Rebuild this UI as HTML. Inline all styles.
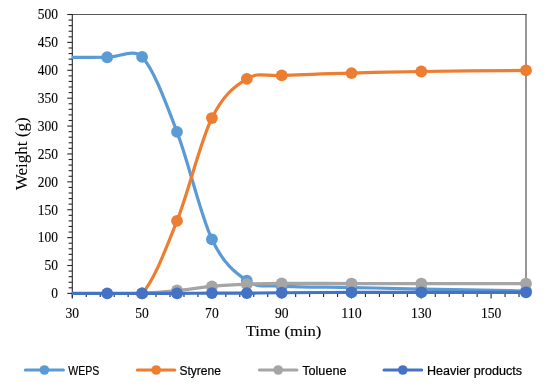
<!DOCTYPE html>
<html><head><meta charset="utf-8"><style>
html,body{margin:0;padding:0;background:#fff;width:550px;height:390px;overflow:hidden}
svg{display:block}
</style></head><body>
<svg width="550" height="390" viewBox="0 0 550 390">
<rect x="0" y="0" width="550" height="390" fill="#fff"/>
<line x1="72.3" y1="14.5" x2="526.5" y2="14.5" stroke="#595959" stroke-width="1.1"/>
<line x1="526" y1="14" x2="526" y2="293.4" stroke="#404040" stroke-width="1.1"/>
<path d="M72.3 14 V297.5" fill="none" stroke="#262626" stroke-width="1.1"/>
<line x1="67.3" y1="293.40" x2="72.3" y2="293.40" stroke="#262626" stroke-width="1.1"/>
<line x1="68.6" y1="287.82" x2="72.3" y2="287.82" stroke="#262626" stroke-width="1.1"/>
<line x1="68.6" y1="282.24" x2="72.3" y2="282.24" stroke="#262626" stroke-width="1.1"/>
<line x1="68.6" y1="276.67" x2="72.3" y2="276.67" stroke="#262626" stroke-width="1.1"/>
<line x1="68.6" y1="271.09" x2="72.3" y2="271.09" stroke="#262626" stroke-width="1.1"/>
<line x1="67.3" y1="265.51" x2="72.3" y2="265.51" stroke="#262626" stroke-width="1.1"/>
<line x1="68.6" y1="259.93" x2="72.3" y2="259.93" stroke="#262626" stroke-width="1.1"/>
<line x1="68.6" y1="254.35" x2="72.3" y2="254.35" stroke="#262626" stroke-width="1.1"/>
<line x1="68.6" y1="248.78" x2="72.3" y2="248.78" stroke="#262626" stroke-width="1.1"/>
<line x1="68.6" y1="243.20" x2="72.3" y2="243.20" stroke="#262626" stroke-width="1.1"/>
<line x1="67.3" y1="237.62" x2="72.3" y2="237.62" stroke="#262626" stroke-width="1.1"/>
<line x1="68.6" y1="232.04" x2="72.3" y2="232.04" stroke="#262626" stroke-width="1.1"/>
<line x1="68.6" y1="226.46" x2="72.3" y2="226.46" stroke="#262626" stroke-width="1.1"/>
<line x1="68.6" y1="220.89" x2="72.3" y2="220.89" stroke="#262626" stroke-width="1.1"/>
<line x1="68.6" y1="215.31" x2="72.3" y2="215.31" stroke="#262626" stroke-width="1.1"/>
<line x1="67.3" y1="209.73" x2="72.3" y2="209.73" stroke="#262626" stroke-width="1.1"/>
<line x1="68.6" y1="204.15" x2="72.3" y2="204.15" stroke="#262626" stroke-width="1.1"/>
<line x1="68.6" y1="198.57" x2="72.3" y2="198.57" stroke="#262626" stroke-width="1.1"/>
<line x1="68.6" y1="193.00" x2="72.3" y2="193.00" stroke="#262626" stroke-width="1.1"/>
<line x1="68.6" y1="187.42" x2="72.3" y2="187.42" stroke="#262626" stroke-width="1.1"/>
<line x1="67.3" y1="181.84" x2="72.3" y2="181.84" stroke="#262626" stroke-width="1.1"/>
<line x1="68.6" y1="176.26" x2="72.3" y2="176.26" stroke="#262626" stroke-width="1.1"/>
<line x1="68.6" y1="170.68" x2="72.3" y2="170.68" stroke="#262626" stroke-width="1.1"/>
<line x1="68.6" y1="165.11" x2="72.3" y2="165.11" stroke="#262626" stroke-width="1.1"/>
<line x1="68.6" y1="159.53" x2="72.3" y2="159.53" stroke="#262626" stroke-width="1.1"/>
<line x1="67.3" y1="153.95" x2="72.3" y2="153.95" stroke="#262626" stroke-width="1.1"/>
<line x1="68.6" y1="148.37" x2="72.3" y2="148.37" stroke="#262626" stroke-width="1.1"/>
<line x1="68.6" y1="142.79" x2="72.3" y2="142.79" stroke="#262626" stroke-width="1.1"/>
<line x1="68.6" y1="137.22" x2="72.3" y2="137.22" stroke="#262626" stroke-width="1.1"/>
<line x1="68.6" y1="131.64" x2="72.3" y2="131.64" stroke="#262626" stroke-width="1.1"/>
<line x1="67.3" y1="126.06" x2="72.3" y2="126.06" stroke="#262626" stroke-width="1.1"/>
<line x1="68.6" y1="120.48" x2="72.3" y2="120.48" stroke="#262626" stroke-width="1.1"/>
<line x1="68.6" y1="114.90" x2="72.3" y2="114.90" stroke="#262626" stroke-width="1.1"/>
<line x1="68.6" y1="109.33" x2="72.3" y2="109.33" stroke="#262626" stroke-width="1.1"/>
<line x1="68.6" y1="103.75" x2="72.3" y2="103.75" stroke="#262626" stroke-width="1.1"/>
<line x1="67.3" y1="98.17" x2="72.3" y2="98.17" stroke="#262626" stroke-width="1.1"/>
<line x1="68.6" y1="92.59" x2="72.3" y2="92.59" stroke="#262626" stroke-width="1.1"/>
<line x1="68.6" y1="87.01" x2="72.3" y2="87.01" stroke="#262626" stroke-width="1.1"/>
<line x1="68.6" y1="81.44" x2="72.3" y2="81.44" stroke="#262626" stroke-width="1.1"/>
<line x1="68.6" y1="75.86" x2="72.3" y2="75.86" stroke="#262626" stroke-width="1.1"/>
<line x1="67.3" y1="70.28" x2="72.3" y2="70.28" stroke="#262626" stroke-width="1.1"/>
<line x1="68.6" y1="64.70" x2="72.3" y2="64.70" stroke="#262626" stroke-width="1.1"/>
<line x1="68.6" y1="59.12" x2="72.3" y2="59.12" stroke="#262626" stroke-width="1.1"/>
<line x1="68.6" y1="53.55" x2="72.3" y2="53.55" stroke="#262626" stroke-width="1.1"/>
<line x1="68.6" y1="47.97" x2="72.3" y2="47.97" stroke="#262626" stroke-width="1.1"/>
<line x1="67.3" y1="42.39" x2="72.3" y2="42.39" stroke="#262626" stroke-width="1.1"/>
<line x1="68.6" y1="36.81" x2="72.3" y2="36.81" stroke="#262626" stroke-width="1.1"/>
<line x1="68.6" y1="31.23" x2="72.3" y2="31.23" stroke="#262626" stroke-width="1.1"/>
<line x1="68.6" y1="25.66" x2="72.3" y2="25.66" stroke="#262626" stroke-width="1.1"/>
<line x1="68.6" y1="20.08" x2="72.3" y2="20.08" stroke="#262626" stroke-width="1.1"/>
<line x1="67.3" y1="14.50" x2="72.3" y2="14.50" stroke="#262626" stroke-width="1.1"/>
<line x1="72.3" y1="293.4" x2="526" y2="293.4" stroke="#262626" stroke-width="1.1"/>
<line x1="72.30" y1="293.4" x2="72.30" y2="298.40" stroke="#262626" stroke-width="1.1"/>
<line x1="86.26" y1="293.4" x2="86.26" y2="297.00" stroke="#262626" stroke-width="1.1"/>
<line x1="100.22" y1="293.4" x2="100.22" y2="297.00" stroke="#262626" stroke-width="1.1"/>
<line x1="114.18" y1="293.4" x2="114.18" y2="297.00" stroke="#262626" stroke-width="1.1"/>
<line x1="128.14" y1="293.4" x2="128.14" y2="297.00" stroke="#262626" stroke-width="1.1"/>
<line x1="142.10" y1="293.4" x2="142.10" y2="298.40" stroke="#262626" stroke-width="1.1"/>
<line x1="156.06" y1="293.4" x2="156.06" y2="297.00" stroke="#262626" stroke-width="1.1"/>
<line x1="170.02" y1="293.4" x2="170.02" y2="297.00" stroke="#262626" stroke-width="1.1"/>
<line x1="183.98" y1="293.4" x2="183.98" y2="297.00" stroke="#262626" stroke-width="1.1"/>
<line x1="197.94" y1="293.4" x2="197.94" y2="297.00" stroke="#262626" stroke-width="1.1"/>
<line x1="211.90" y1="293.4" x2="211.90" y2="298.40" stroke="#262626" stroke-width="1.1"/>
<line x1="225.86" y1="293.4" x2="225.86" y2="297.00" stroke="#262626" stroke-width="1.1"/>
<line x1="239.82" y1="293.4" x2="239.82" y2="297.00" stroke="#262626" stroke-width="1.1"/>
<line x1="253.78" y1="293.4" x2="253.78" y2="297.00" stroke="#262626" stroke-width="1.1"/>
<line x1="267.74" y1="293.4" x2="267.74" y2="297.00" stroke="#262626" stroke-width="1.1"/>
<line x1="281.70" y1="293.4" x2="281.70" y2="298.40" stroke="#262626" stroke-width="1.1"/>
<line x1="295.66" y1="293.4" x2="295.66" y2="297.00" stroke="#262626" stroke-width="1.1"/>
<line x1="309.62" y1="293.4" x2="309.62" y2="297.00" stroke="#262626" stroke-width="1.1"/>
<line x1="323.58" y1="293.4" x2="323.58" y2="297.00" stroke="#262626" stroke-width="1.1"/>
<line x1="337.54" y1="293.4" x2="337.54" y2="297.00" stroke="#262626" stroke-width="1.1"/>
<line x1="351.50" y1="293.4" x2="351.50" y2="298.40" stroke="#262626" stroke-width="1.1"/>
<line x1="365.46" y1="293.4" x2="365.46" y2="297.00" stroke="#262626" stroke-width="1.1"/>
<line x1="379.42" y1="293.4" x2="379.42" y2="297.00" stroke="#262626" stroke-width="1.1"/>
<line x1="393.38" y1="293.4" x2="393.38" y2="297.00" stroke="#262626" stroke-width="1.1"/>
<line x1="407.34" y1="293.4" x2="407.34" y2="297.00" stroke="#262626" stroke-width="1.1"/>
<line x1="421.30" y1="293.4" x2="421.30" y2="298.40" stroke="#262626" stroke-width="1.1"/>
<line x1="435.26" y1="293.4" x2="435.26" y2="297.00" stroke="#262626" stroke-width="1.1"/>
<line x1="449.22" y1="293.4" x2="449.22" y2="297.00" stroke="#262626" stroke-width="1.1"/>
<line x1="463.18" y1="293.4" x2="463.18" y2="297.00" stroke="#262626" stroke-width="1.1"/>
<line x1="477.14" y1="293.4" x2="477.14" y2="297.00" stroke="#262626" stroke-width="1.1"/>
<line x1="491.10" y1="293.4" x2="491.10" y2="298.40" stroke="#262626" stroke-width="1.1"/>
<line x1="505.06" y1="293.4" x2="505.06" y2="297.00" stroke="#262626" stroke-width="1.1"/>
<line x1="519.02" y1="293.4" x2="519.02" y2="297.00" stroke="#262626" stroke-width="1.1"/>
<defs><clipPath id="pc"><rect x="71.8" y="0" width="460" height="390"/></clipPath></defs>
<path d="M37.40 57.45 C43.22 57.45 60.67 57.49 72.30 57.45 C83.93 57.41 95.57 57.32 107.20 57.23 C118.83 57.13 134.19 48.44 142.10 56.89 C153.73 69.32 165.37 101.41 177.00 131.81 C188.63 162.21 200.27 214.50 211.90 239.29 C223.38 263.76 235.17 272.76 246.80 280.57 C258.43 288.38 264.25 284.99 281.70 286.15 C299.15 287.31 328.23 287.06 351.50 287.54 C374.77 288.03 392.22 288.47 421.30 289.05 C450.38 289.63 508.55 290.68 526.00 291.00" fill="none" stroke="#5B9BD5" stroke-width="3.2" stroke-linejoin="round" stroke-linecap="round" clip-path="url(#pc)"/>
<circle cx="107.20" cy="57.23" r="5.9" fill="#5B9BD5"/>
<circle cx="142.10" cy="56.89" r="5.9" fill="#5B9BD5"/>
<circle cx="177.00" cy="131.81" r="5.9" fill="#5B9BD5"/>
<circle cx="211.90" cy="239.29" r="5.9" fill="#5B9BD5"/>
<circle cx="246.80" cy="280.57" r="5.9" fill="#5B9BD5"/>
<circle cx="281.70" cy="286.15" r="5.9" fill="#5B9BD5"/>
<circle cx="351.50" cy="287.54" r="5.9" fill="#5B9BD5"/>
<circle cx="421.30" cy="289.05" r="5.9" fill="#5B9BD5"/>
<circle cx="526.00" cy="291.00" r="5.9" fill="#5B9BD5"/>
<path d="M142.10 293.40 C153.73 281.31 165.37 250.11 177.00 220.89 C188.63 191.66 200.27 141.71 211.90 118.03 C223.47 94.47 235.17 85.92 246.80 78.81 C258.43 71.71 264.25 76.37 281.70 75.41 C299.15 74.45 328.23 73.72 351.50 73.07 C374.77 72.42 392.22 71.95 421.30 71.51 C450.38 71.06 508.55 70.58 526.00 70.39" fill="none" stroke="#ED7D31" stroke-width="3.2" stroke-linejoin="round" stroke-linecap="round" clip-path="url(#pc)"/>
<circle cx="142.10" cy="293.40" r="5.9" fill="#ED7D31"/>
<circle cx="177.00" cy="220.89" r="5.9" fill="#ED7D31"/>
<circle cx="211.90" cy="118.03" r="5.9" fill="#ED7D31"/>
<circle cx="246.80" cy="78.81" r="5.9" fill="#ED7D31"/>
<circle cx="281.70" cy="75.41" r="5.9" fill="#ED7D31"/>
<circle cx="351.50" cy="73.07" r="5.9" fill="#ED7D31"/>
<circle cx="421.30" cy="71.51" r="5.9" fill="#ED7D31"/>
<circle cx="526.00" cy="70.39" r="5.9" fill="#ED7D31"/>
<path d="M142.10 293.40 C147.92 292.92 165.37 291.66 177.00 290.50 C188.63 289.34 200.27 287.48 211.90 286.43 C223.53 285.38 235.17 284.71 246.80 284.20 C258.43 283.68 264.25 283.47 281.70 283.36 C299.15 283.25 328.23 283.50 351.50 283.53 C374.77 283.55 392.22 283.53 421.30 283.53 C450.38 283.53 508.55 283.53 526.00 283.53" fill="none" stroke="#A5A5A5" stroke-width="3.2" stroke-linejoin="round" stroke-linecap="round" clip-path="url(#pc)"/>
<circle cx="142.10" cy="293.40" r="5.9" fill="#A5A5A5"/>
<circle cx="177.00" cy="290.50" r="5.9" fill="#A5A5A5"/>
<circle cx="211.90" cy="286.43" r="5.9" fill="#A5A5A5"/>
<circle cx="246.80" cy="284.20" r="5.9" fill="#A5A5A5"/>
<circle cx="281.70" cy="283.36" r="5.9" fill="#A5A5A5"/>
<circle cx="351.50" cy="283.53" r="5.9" fill="#A5A5A5"/>
<circle cx="421.30" cy="283.53" r="5.9" fill="#A5A5A5"/>
<circle cx="526.00" cy="283.53" r="5.9" fill="#A5A5A5"/>
<path d="M37.40 293.40 C43.22 293.40 60.67 293.40 72.30 293.40 C83.93 293.40 95.57 293.40 107.20 293.40 C118.83 293.40 130.47 293.40 142.10 293.40 C153.73 293.40 165.37 293.45 177.00 293.40 C188.63 293.35 200.27 293.17 211.90 293.12 C223.53 293.07 235.17 293.19 246.80 293.12 C258.43 293.06 264.25 292.85 281.70 292.73 C299.15 292.61 328.23 292.47 351.50 292.40 C374.77 292.32 392.22 292.30 421.30 292.28 C450.38 292.27 508.55 292.28 526.00 292.28" fill="none" stroke="#4472C4" stroke-width="3.2" stroke-linejoin="round" stroke-linecap="round" clip-path="url(#pc)"/>
<circle cx="107.20" cy="293.40" r="5.9" fill="#4472C4"/>
<circle cx="142.10" cy="293.40" r="5.9" fill="#4472C4"/>
<circle cx="177.00" cy="293.40" r="5.9" fill="#4472C4"/>
<circle cx="211.90" cy="293.12" r="5.9" fill="#4472C4"/>
<circle cx="246.80" cy="293.12" r="5.9" fill="#4472C4"/>
<circle cx="281.70" cy="292.73" r="5.9" fill="#4472C4"/>
<circle cx="351.50" cy="292.40" r="5.9" fill="#4472C4"/>
<circle cx="421.30" cy="292.28" r="5.9" fill="#4472C4"/>
<circle cx="526.00" cy="292.28" r="5.9" fill="#4472C4"/>
<text x="58" y="298.20" font-family="Liberation Serif, serif" stroke="#000" stroke-width="0.12" font-size="14.6" text-anchor="end" textLength="6.7" lengthAdjust="spacingAndGlyphs" fill="#000">0</text>
<text x="58" y="270.31" font-family="Liberation Serif, serif" stroke="#000" stroke-width="0.12" font-size="14.6" text-anchor="end" textLength="13.5" lengthAdjust="spacingAndGlyphs" fill="#000">50</text>
<text x="58" y="242.42" font-family="Liberation Serif, serif" stroke="#000" stroke-width="0.12" font-size="14.6" text-anchor="end" textLength="20.2" lengthAdjust="spacingAndGlyphs" fill="#000">100</text>
<text x="58" y="214.53" font-family="Liberation Serif, serif" stroke="#000" stroke-width="0.12" font-size="14.6" text-anchor="end" textLength="20.2" lengthAdjust="spacingAndGlyphs" fill="#000">150</text>
<text x="58" y="186.64" font-family="Liberation Serif, serif" stroke="#000" stroke-width="0.12" font-size="14.6" text-anchor="end" textLength="20.2" lengthAdjust="spacingAndGlyphs" fill="#000">200</text>
<text x="58" y="158.75" font-family="Liberation Serif, serif" stroke="#000" stroke-width="0.12" font-size="14.6" text-anchor="end" textLength="20.2" lengthAdjust="spacingAndGlyphs" fill="#000">250</text>
<text x="58" y="130.86" font-family="Liberation Serif, serif" stroke="#000" stroke-width="0.12" font-size="14.6" text-anchor="end" textLength="20.2" lengthAdjust="spacingAndGlyphs" fill="#000">300</text>
<text x="58" y="102.97" font-family="Liberation Serif, serif" stroke="#000" stroke-width="0.12" font-size="14.6" text-anchor="end" textLength="20.2" lengthAdjust="spacingAndGlyphs" fill="#000">350</text>
<text x="58" y="75.08" font-family="Liberation Serif, serif" stroke="#000" stroke-width="0.12" font-size="14.6" text-anchor="end" textLength="20.2" lengthAdjust="spacingAndGlyphs" fill="#000">400</text>
<text x="58" y="47.19" font-family="Liberation Serif, serif" stroke="#000" stroke-width="0.12" font-size="14.6" text-anchor="end" textLength="20.2" lengthAdjust="spacingAndGlyphs" fill="#000">450</text>
<text x="58" y="19.30" font-family="Liberation Serif, serif" stroke="#000" stroke-width="0.12" font-size="14.6" text-anchor="end" textLength="20.2" lengthAdjust="spacingAndGlyphs" fill="#000">500</text>
<text x="65.50" y="317.9" font-family="Liberation Serif, serif" stroke="#000" stroke-width="0.12" font-size="14.6" textLength="13.6" lengthAdjust="spacingAndGlyphs" fill="#000">30</text>
<text x="135.30" y="317.9" font-family="Liberation Serif, serif" stroke="#000" stroke-width="0.12" font-size="14.6" textLength="13.6" lengthAdjust="spacingAndGlyphs" fill="#000">50</text>
<text x="205.10" y="317.9" font-family="Liberation Serif, serif" stroke="#000" stroke-width="0.12" font-size="14.6" textLength="13.6" lengthAdjust="spacingAndGlyphs" fill="#000">70</text>
<text x="274.90" y="317.9" font-family="Liberation Serif, serif" stroke="#000" stroke-width="0.12" font-size="14.6" textLength="13.6" lengthAdjust="spacingAndGlyphs" fill="#000">90</text>
<text x="341.30" y="317.9" font-family="Liberation Serif, serif" stroke="#000" stroke-width="0.12" font-size="14.6" textLength="20.4" lengthAdjust="spacingAndGlyphs" fill="#000">110</text>
<text x="411.10" y="317.9" font-family="Liberation Serif, serif" stroke="#000" stroke-width="0.12" font-size="14.6" textLength="20.4" lengthAdjust="spacingAndGlyphs" fill="#000">130</text>
<text x="480.90" y="317.9" font-family="Liberation Serif, serif" stroke="#000" stroke-width="0.12" font-size="14.6" textLength="20.4" lengthAdjust="spacingAndGlyphs" fill="#000">150</text>
<text x="245.7" y="336.1" font-family="Liberation Serif, serif" stroke="#000" font-size="15.6" stroke-width="0.12" textLength="75.7" lengthAdjust="spacingAndGlyphs" fill="#000">Time (min)</text>
<text transform="translate(26.8 190.2) rotate(-90)" x="0" y="0" font-family="Liberation Serif, serif" stroke="#000" font-size="16.6" stroke-width="0.05" textLength="72.8" lengthAdjust="spacingAndGlyphs" fill="#000">Weight (g)</text>
<line x1="25.3" y1="370" x2="63.5" y2="370" stroke="#5B9BD5" stroke-width="3" stroke-linecap="round"/>
<circle cx="44.4" cy="370" r="4.8" fill="#5B9BD5"/>
<text x="68.3" y="374.6" font-family="Liberation Sans, sans-serif" stroke="#000" stroke-width="0.2" font-size="12.3" textLength="31.1" lengthAdjust="spacingAndGlyphs" fill="#000">WEPS</text>
<line x1="137.3" y1="370" x2="174.9" y2="370" stroke="#ED7D31" stroke-width="3" stroke-linecap="round"/>
<circle cx="156.2" cy="370" r="4.8" fill="#ED7D31"/>
<text x="179.5" y="374.6" font-family="Liberation Sans, sans-serif" stroke="#000" stroke-width="0.2" font-size="12.3" textLength="41.4" lengthAdjust="spacingAndGlyphs" fill="#000">Styrene</text>
<line x1="259.4" y1="370" x2="297.0" y2="370" stroke="#A5A5A5" stroke-width="3" stroke-linecap="round"/>
<circle cx="278.2" cy="370" r="4.8" fill="#A5A5A5"/>
<text x="302.2" y="374.6" font-family="Liberation Sans, sans-serif" stroke="#000" stroke-width="0.2" font-size="12.3" textLength="44.3" lengthAdjust="spacingAndGlyphs" fill="#000">Toluene</text>
<line x1="384.0" y1="370" x2="421.7" y2="370" stroke="#4472C4" stroke-width="3" stroke-linecap="round"/>
<circle cx="402.8" cy="370" r="4.8" fill="#4472C4"/>
<text x="427.0" y="374.6" font-family="Liberation Sans, sans-serif" stroke="#000" stroke-width="0.2" font-size="12.3" textLength="95.0" lengthAdjust="spacingAndGlyphs" fill="#000">Heavier products</text>
</svg>
</body></html>
